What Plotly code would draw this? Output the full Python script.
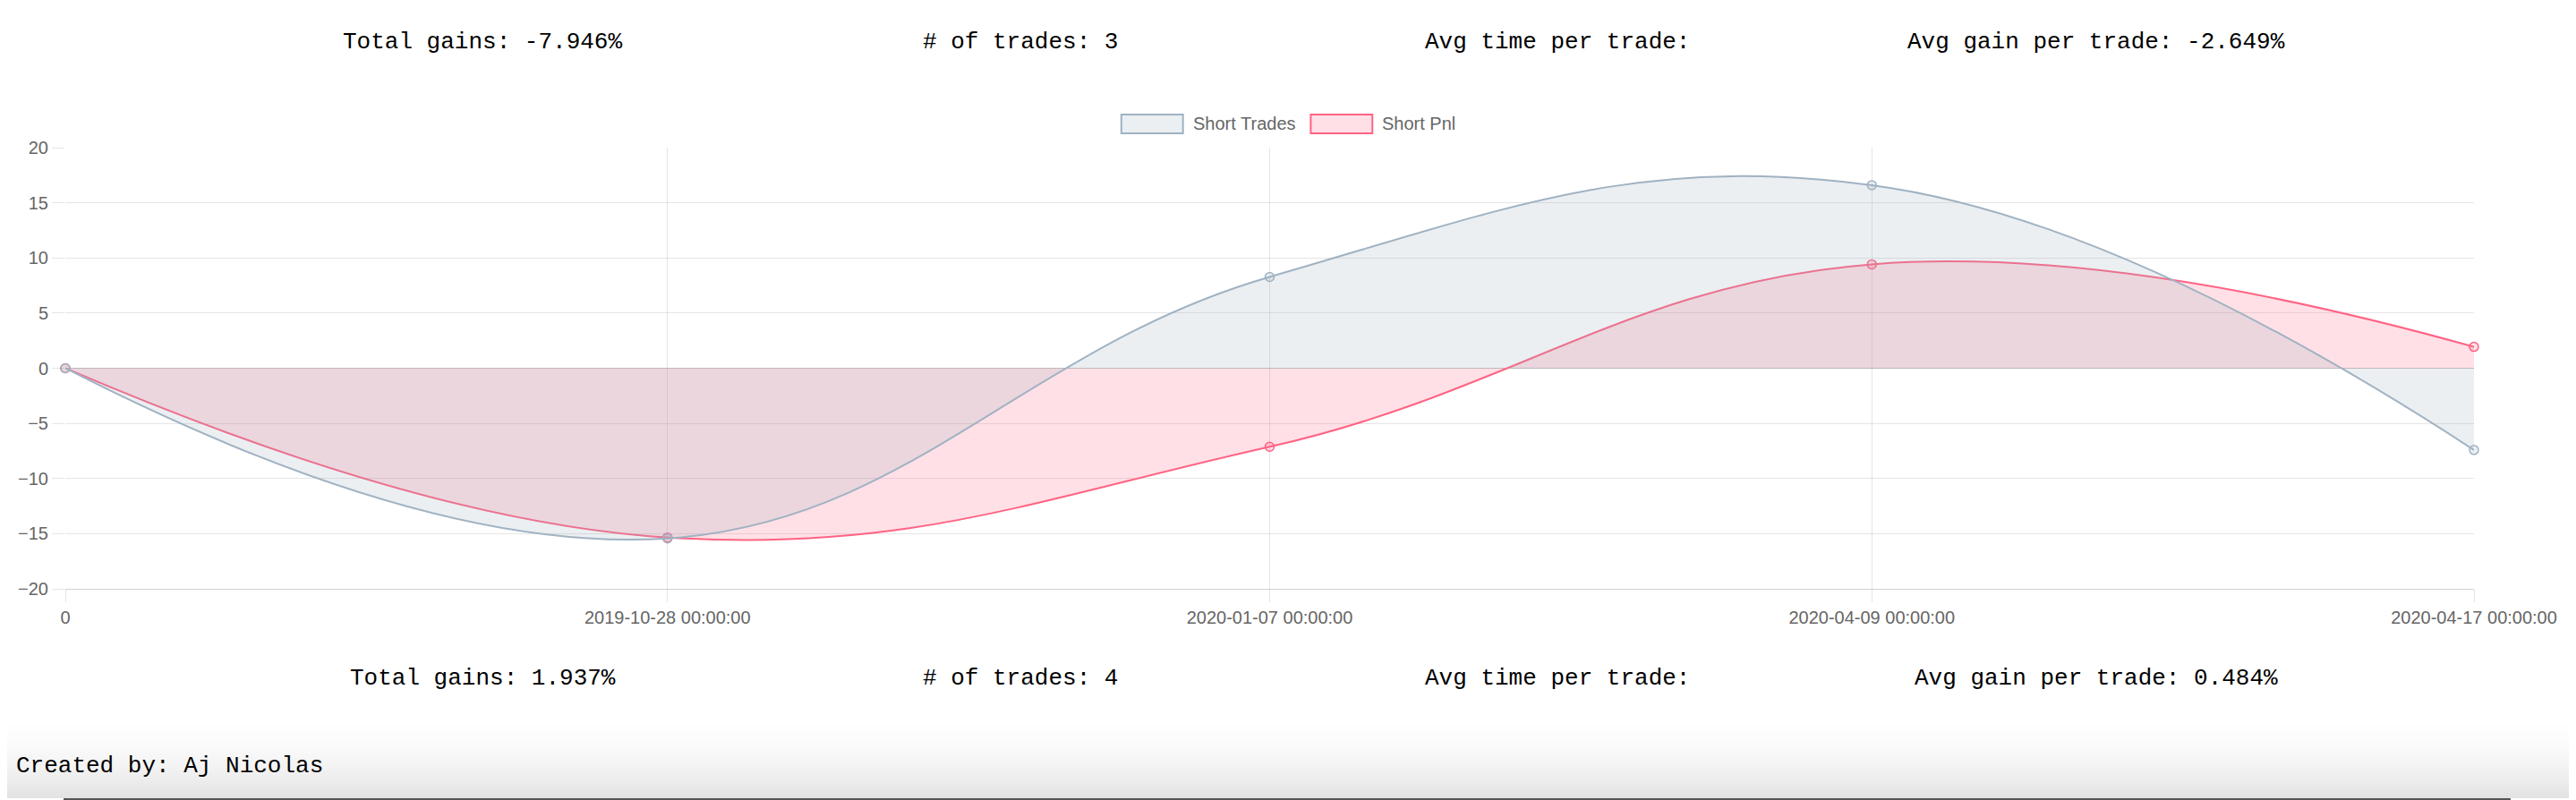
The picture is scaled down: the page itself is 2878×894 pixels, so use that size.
import plotly.graph_objects as go

## DATA
dates = ['0', '2019-10-28 00:00:00', '2020-01-07 00:00:00', '2020-04-09 00:00:00', '2020-04-17 00:00:00']
short_trades = [0, -15.43, 8.28, 16.6, -7.41]
short_pnl = [0, -15.35, -7.12, 9.42, 1.94]

top_stats = ['Total gains: -7.946%', '# of trades: 3', 'Avg time per trade:', 'Avg gain per trade: -2.649%']
bottom_stats = ['Total gains: 1.937%', '# of trades: 4', 'Avg time per trade:', 'Avg gain per trade: 0.484%']
credit = 'Created by: Aj Nicolas'
legend_names = ['Short Trades', 'Short Pnl']

## PAGE GEOMETRY (screen pixels)
W, H = 2878, 894
L, R, T, B = 68, 2764, 165, 658   # plot area edges on screen
OFF = 8                           # browser body margin pushes the figure by 8px


def px_x(p):
    return (p - L) / (R - L)


def px_y(p):
    return (B - p) / (B - T)


gray_line = 'rgb(160,178,194)'
gray_fill = 'rgba(155,175,190,0.2)'
red_line = 'rgb(255,99,132)'
red_fill = 'rgba(255,99,132,0.2)'
mono = 'Liberation Mono, Courier New, monospace'
sans = 'Liberation Sans, Arial, sans-serif'

fig = go.Figure()

# pnl first so the trades dataset sits on top (like chart.js)
fig.add_trace(go.Scatter(
    x=dates, y=short_pnl, name=legend_names[1], mode='lines+markers',
    line=dict(color=red_line, width=2, shape='spline', smoothing=1.2),
    marker=dict(size=10, color=red_fill, line=dict(color=red_line, width=1.5)),
    fill='tozeroy', fillcolor=red_fill, cliponaxis=False))
fig.add_trace(go.Scatter(
    x=dates, y=short_trades, name=legend_names[0], mode='lines+markers',
    line=dict(color=gray_line, width=2, shape='spline', smoothing=1.2),
    marker=dict(size=10, color=gray_fill, line=dict(color=gray_line, width=1.5)),
    fill='tozeroy', fillcolor=gray_fill, cliponaxis=False))

fig.update_xaxes(type='category', range=[0, len(dates) - 1], showgrid=True,
                 gridcolor='rgba(0,0,0,0.1)', ticks='outside', ticklen=14,
                 tickcolor='rgba(0,0,0,0.1)', tickfont=dict(family=sans, size=20, color='#666'),
                 showline=True, linecolor='rgba(0,0,0,0.18)', zeroline=False)
fig.update_yaxes(range=[-20, 20], dtick=5, showgrid=True, gridcolor='rgba(0,0,0,0.1)',
                 zeroline=True, zerolinecolor='rgba(0,0,0,0.25)', zerolinewidth=1,
                 ticks='outside', ticklen=14, tickcolor='rgba(0,0,0,0.1)',
                 tickfont=dict(family=sans, size=20, color='#666'))

# custom chart.js style legend boxes
boxes = [(1250, 1319, gray_fill, gray_line), (1462, 1531, red_fill, red_line)]
for (x0, x1, fc, lc), name in zip(boxes, legend_names):
    fig.add_shape(type='rect', xref='paper', yref='paper', x0=px_x(x0), x1=px_x(x1),
                  y0=px_y(149), y1=px_y(128), fillcolor=fc, line=dict(color=lc, width=2))
    fig.add_annotation(text=name, xref='paper', yref='paper', x=px_x(x1 + 9), y=px_y(138.5),
                       xanchor='left', yanchor='middle', showarrow=False,
                       font=dict(family=sans, size=20, color='#666'))

# stats rows above and below the chart
cols = [535, 1137, 1738, 2341]
for txt, cx in zip(top_stats, cols):
    fig.add_annotation(text=txt, xref='paper', yref='paper', x=px_x(cx), y=px_y(47),
                       xanchor='center', yanchor='middle', showarrow=False,
                       font=dict(family=mono, size=26, color='black'))
for txt, cx in zip(bottom_stats, cols):
    fig.add_annotation(text=txt, xref='paper', yref='paper', x=px_x(cx), y=px_y(758),
                       xanchor='center', yanchor='middle', showarrow=False,
                       font=dict(family=mono, size=26, color='black'))
fig.add_annotation(text=credit, xref='paper', yref='paper', x=px_x(11), y=px_y(856),
                   xanchor='left', yanchor='middle', showarrow=False,
                   font=dict(family=mono, size=26, color='black'))

# soft footer shadow at the bottom of the page (eases in towards the bottom)
steps = 30
for i in range(steps):
    y_top = 790 + (892 - 790) * ((i + 1) / steps) ** 0.5
    fig.add_shape(type='rect', xref='paper', yref='paper', x0=px_x(0), x1=px_x(W),
                  y0=px_y(892), y1=px_y(y_top), fillcolor='rgba(0,0,0,0.003)',
                  line=dict(width=0), layer='below')
fig.add_shape(type='rect', xref='paper', yref='paper', x0=px_x(66), x1=px_x(2805),
              y0=px_y(H), y1=px_y(892), fillcolor='#555', line=dict(width=0))

fig.update_layout(width=W, height=H,
                  margin=dict(l=L - OFF, r=W - R + OFF, t=T - OFF, b=H - B + OFF),
                  plot_bgcolor='rgba(0,0,0,0)', paper_bgcolor='white', showlegend=False)

fig.write_html("out.html")
